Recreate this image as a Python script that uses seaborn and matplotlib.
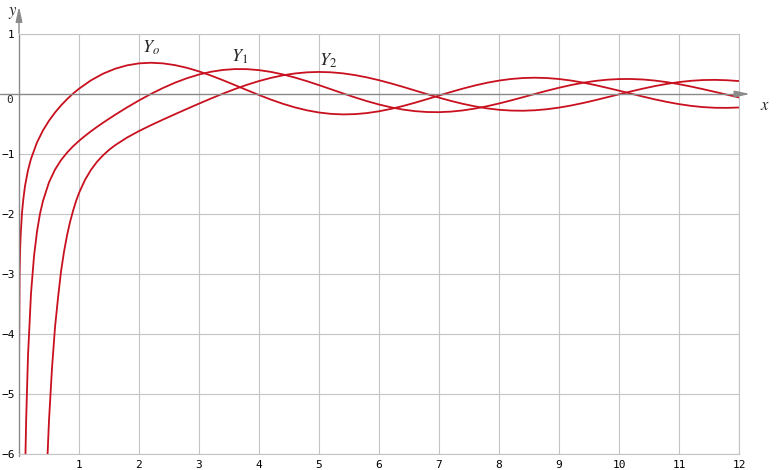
import pandas as pd
import numpy as np
import seaborn as sns
import matplotlib.pyplot as plt

# curves (Y0, Y1, Y2), near-zero part + main part
x_main = [1.2, 1.4, 1.6, 1.8, 2.0, 2.2, 2.4, 2.6, 2.8, 3.0,
          3.2, 3.4, 3.6, 3.8, 4.0, 4.2, 4.4, 4.6, 4.8, 5.0,
          5.2, 5.4, 5.6, 5.8, 6.0, 6.2, 6.4, 6.6, 6.8, 7.0,
          7.2, 7.4, 7.6, 7.8, 8.0, 8.2, 8.4, 8.6, 8.8, 9.0,
          9.2, 9.4, 9.6, 9.8, 10.0, 10.2, 10.4, 10.6, 10.8, 11.0,
          11.2, 11.4, 11.6, 11.8, 12.0]

y0_head_x = [0.00005, 0.001, 0.01, 0.02, 0.03, 0.05, 0.07, 0.1, 0.15, 0.2,
             0.3, 0.4, 0.5, 0.6, 0.7, 0.8, 0.9, 1.0]
y0_head = [-6.38, -4.47, -3.01, -2.56, -2.31, -1.98, -1.77, -1.534, -1.271, -1.081,
           -0.807, -0.606, -0.445, -0.309, -0.191, -0.087, 0.006, 0.088]
y0_main = [0.2281, 0.3379, 0.4204, 0.4774, 0.5104, 0.5208, 0.5104, 0.4813, 0.4359, 0.3769,
           0.3071, 0.2296, 0.1477, 0.0645, -0.0169, -0.0938, -0.1636, -0.2235, -0.2723, -0.3085,
           -0.3313, -0.3402, -0.3354, -0.3177, -0.2882, -0.2483, -0.2, -0.1452, -0.0864, -0.0259,
           0.0339, 0.0907, 0.1424, 0.1872, 0.2235, 0.2501, 0.2662, 0.2715, 0.2659, 0.2499,
           0.2243, 0.1903, 0.1494, 0.1032, 0.0557, 0.0059, -0.0433, -0.09, -0.1323, -0.1688,
           -0.1978, -0.2183, -0.2296, -0.2311, -0.2252]

y1_head_x = [0.1, 0.11, 0.12, 0.15, 0.2, 0.25, 0.3, 0.35, 0.4, 0.5, 0.6, 0.7, 0.8, 0.9, 1.0,
             1.1, 1.3]
y1_head = [-6.459, -5.886, -5.41, -4.364, -3.324, -2.706, -2.293, -1.995, -1.781, -1.472, -1.26,
           -1.103, -0.978, -0.873, -0.781, -0.698, -0.5485]
y1_main = [-0.6211, -0.4791, -0.3476, -0.2237, -0.107, 0.0015, 0.1005, 0.1884, 0.2635, 0.3247,
           0.3707, 0.401, 0.4154, 0.4141, 0.3979, 0.368, 0.326, 0.2737, 0.2136, 0.1479,
           0.0792, 0.0101, -0.0568, -0.1192, -0.175, -0.2223, -0.2596, -0.2858, -0.3002, -0.3027,
           -0.2934, -0.2731, -0.2428, -0.2039, -0.1581, -0.1072, -0.0535, 0.0011, 0.0544, 0.1043,
           0.1491, 0.1871, 0.2171, 0.2379, 0.249, 0.2502, 0.2416, 0.2236, 0.1973, 0.1637,
           0.1243, 0.0808, 0.035, -0.0114, -0.0571]

y2_head_x = [0.45, 0.5, 0.55, 0.6, 0.65, 0.7, 0.75, 0.8, 0.85, 0.9, 0.95, 1.0, 1.1, 1.3, 1.5]
y2_head = [-6.63, -5.44, -4.57, -3.89, -3.4, -2.96, -2.63, -2.36, -2.135, -1.95, -1.787, -1.65,
           -1.4315, -1.1303, -0.9321]
y2_main = [-1.2633, -1.0223, -0.8549, -0.726, -0.6174, -0.5194, -0.4266, -0.3364, -0.2477, -0.1604,
           -0.0754, 0.0063, 0.0831, 0.1534, 0.2159, 0.269, 0.3118, 0.3425, 0.3613, 0.3677,
           0.3618, 0.3439, 0.3151, 0.2766, 0.2299, 0.1766, 0.1189, 0.0586, -0.0019, -0.0606,
           -0.1154, -0.1645, -0.2063, -0.2395, -0.263, -0.2762, -0.2789, -0.2712, -0.2535, -0.2267,
           -0.1919, -0.1505, -0.1042, -0.0546, -0.0059, 0.0432, 0.0898, 0.1322, 0.1688, 0.1986,
           0.22, 0.2325, 0.2356, 0.2292, 0.2157]

x_ticks = [1, 2, 3, 4, 5, 6, 7, 8, 9, 10, 11, 12]
y_ticks = [-6, -5, -4, -3, -2, -1, 1]

frames = []
for name, hx, hy, my in [("Y0", y0_head_x, y0_head, y0_main),
                         ("Y1", y1_head_x, y1_head, y1_main),
                         ("Y2", y2_head_x, y2_head, y2_main)]:
    frames.append(pd.DataFrame({"x": hx + x_main, "y": hy + my, "curve": name}))
df = pd.concat(frames, ignore_index=True)
df = df.sort_values(["curve", "x"])

sns.set_style("white")
plt.rcParams['mathtext.fontset'] = 'stix'

red = '#c8101e'
grid_c = '#c4c4c4'
axis_c = '#8a8a8a'

fig = plt.figure(figsize=(7.76, 4.70), dpi=100)
ax = fig.add_axes([19/776, 16/470, 720/776, 420/470])

sns.lineplot(data=df, x="x", y="y", hue="curve", palette={"Y0": red, "Y1": red, "Y2": red},
             estimator=None, sort=False, legend=False, lw=1.3, ax=ax)

ax.set_xlim(0, 12)
ax.set_ylim(-6, 1)
ax.set_xticks(x_ticks)
ax.set_yticks(y_ticks)
ax.grid(True, color=grid_c, lw=0.8)
ax.set_axisbelow(True)
for pos in ['right', 'top', 'bottom']:
    ax.spines[pos].set_color(grid_c)
    ax.spines[pos].set_linewidth(0.8)
ax.spines['left'].set_visible(False)
ax.tick_params(length=0, labelsize=8, colors='black', pad=4)
ax.tick_params(axis='y', pad=3)
for lab in ax.get_xticklabels() + ax.get_yticklabels():
    lab.set_family('DejaVu Sans Mono')
ax.set_xlabel("")
ax.set_ylabel("")

# axes with arrows
ax.plot([-19/720, 1.0], [6/7, 6/7], transform=ax.transAxes, color=axis_c, lw=1, clip_on=False)
ax.annotate('', xy=(1.019, 6/7), xytext=(0.995, 6/7), xycoords='axes fraction',
            arrowprops=dict(arrowstyle='-|>,head_length=0.9,head_width=0.2', color=axis_c, lw=1))
ax.plot([0, 0], [-0.005, 1.0], transform=ax.transAxes, color=axis_c, lw=1, clip_on=False)
ax.annotate('', xy=(0, 1.072), xytext=(0, 0.995), xycoords='axes fraction',
            arrowprops=dict(arrowstyle='-|>,head_length=0.9,head_width=0.2', color=axis_c, lw=1))

ax.text(-0.1, -0.1, "0", fontsize=8, family='DejaVu Sans Mono', ha='right', va='center')
ax.text(1.036, 0.83, "$x$", transform=ax.transAxes, fontsize=12, ha='center', va='center')
ax.text(-0.009, 1.052, "$y$", transform=ax.transAxes, fontsize=12, ha='center', va='center')

ax.text(2.2, 0.77, "$Y_o$", fontsize=13, ha='center', va='center')
ax.text(3.68, 0.62, "$Y_1$", fontsize=13, ha='center', va='center')
ax.text(5.15, 0.55, "$Y_2$", fontsize=13, ha='center', va='center')

plt.savefig("out.png", dpi=100)
